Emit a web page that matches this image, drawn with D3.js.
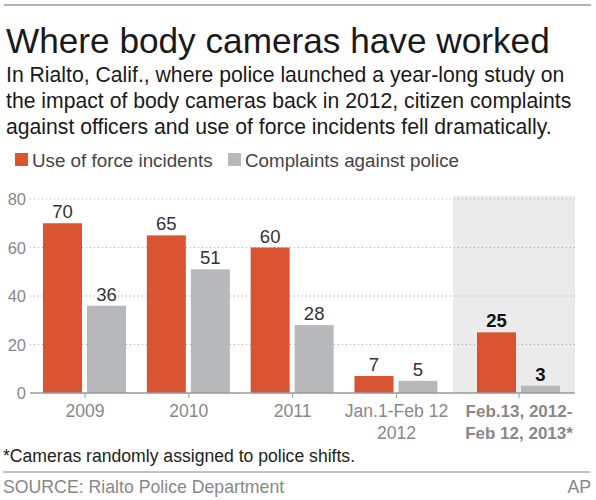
<!DOCTYPE html>
<html>
<head>
<meta charset="utf-8">
<script src="https://cdn.jsdelivr.net/npm/d3@7"></script>
<style>
  body { margin: 0; background: #fff; }
  svg { display: block; font-family: "Liberation Sans", Arial, sans-serif; }
</style>
</head>
<body>
<div id="chart"></div>
<script>
var periods = ["2009", "2010", "2011", "Jan.1-Feb 12|2012", "Feb.13, 2012-|Feb 12, 2013*"];
var force = [70, 65, 60, 7, 25];
var complaints = [36, 51, 28, 5, 3];
var yTicks = [0, 20, 40, 60, 80];

var orange = "#d95430", grey = "#b6b8bb";

var svg = d3.select("#chart").append("svg")
    .attr("width", 596)
    .attr("height", 500);

// top rule
svg.append("line").attr("x1", 4).attr("x2", 591).attr("y1", 5).attr("y2", 5)
    .attr("stroke", "#999").attr("stroke-width", 1.5);

svg.append("text").attr("x", 6).attr("y", 53)
    .attr("font-size", 35.2).attr("fill", "#1a1a1a")
    .text("Where body cameras have worked");

var sub = ["In Rialto, Calif., where police launched a year-long study on",
           "the impact of body cameras back in 2012, citizen complaints",
           "against officers and use of force incidents fell dramatically."];
svg.selectAll(".sub").data(sub).enter().append("text")
    .attr("x", 6).attr("y", function(d, i) { return 82 + i * 26; })
    .attr("font-size", 21.2).attr("fill", "#1a1a1a")
    .text(function(d) { return d; });

// legend
var legend = [["Use of force incidents", orange, 15], ["Complaints against police", grey, 228]];
legend.forEach(function(l) {
    svg.append("rect").attr("x", l[2]).attr("y", 153).attr("width", 13).attr("height", 13).attr("fill", l[1]);
    svg.append("text").attr("x", l[2] + 17).attr("y", 167).attr("font-size", 18.8)
        .attr("fill", "#444").text(l[0]);
});

// scales
var left = 30, right = 575;
var y = d3.scaleLinear().domain([0, 80]).range([393, 199]);
// the study period sits a little further right than the other groups
var slot = periods.map(function(d, i) { return i + (i === 4 ? 0.18 : 0); });
var x = d3.scaleLinear().domain([0, 4.18]).range([85, 519]);
var barW = 39;

// study period shading
svg.append("rect").attr("x", 453).attr("y", y(80) - 3)
    .attr("width", right - 453).attr("height", y(0) - y(80) + 3)
    .attr("fill", "#ebebeb");

// gridlines + y labels
var grid = svg.append("g");
grid.selectAll("line").data(yTicks.slice(1)).enter().append("line")
    .attr("x1", left).attr("x2", right)
    .attr("y1", function(d) { return y(d); }).attr("y2", function(d) { return y(d); })
    .attr("stroke", "#aaa").attr("stroke-dasharray", "1,3");
grid.selectAll("text").data(yTicks).enter().append("text")
    .attr("x", 26).attr("y", function(d) { return y(d) + 6; })
    .attr("text-anchor", "end").attr("font-size", 16.5).attr("fill", "#888")
    .text(function(d) { return d; });

// bars
var groups = svg.selectAll(".grp").data(periods).enter().append("g")
    .attr("transform", function(d, i) { return "translate(" + x(slot[i]) + ",0)"; });

groups.append("rect")
    .attr("x", -barW - 3).attr("width", barW)
    .attr("y", function(d, i) { return y(force[i]); })
    .attr("height", function(d, i) { return y(0) - y(force[i]); })
    .attr("fill", orange);
groups.append("rect")
    .attr("x", 2).attr("width", barW)
    .attr("y", function(d, i) { return y(complaints[i]); })
    .attr("height", function(d, i) { return y(0) - y(complaints[i]); })
    .attr("fill", grey);

function valLabel(sel, vals, dx) {
    sel.append("text")
        .attr("x", dx).attr("y", function(d, i) { return y(vals[i]) - 5; })
        .attr("text-anchor", "middle").attr("font-size", 18.5)
        .attr("font-weight", function(d, i) { return i === 4 ? "bold" : "normal"; })
        .attr("fill", function(d, i) { return i === 4 ? "#111" : "#333"; })
        .text(function(d, i) { return vals[i]; });
}
valLabel(groups, force, -barW / 2 - 3);
valLabel(groups, complaints, barW / 2 + 2);

// x axis
svg.append("line").attr("x1", left).attr("x2", right).attr("y1", y(0)).attr("y2", y(0))
    .attr("stroke", "#999").attr("stroke-width", 1.5);
groups.append("line").attr("x1", 0).attr("x2", 0).attr("y1", y(0)).attr("y2", y(0) + 5)
    .attr("stroke", "#999");
groups.each(function(d, i) {
    var lines = d.split("|");
    var t = d3.select(this).append("text").attr("text-anchor", "middle")
        .attr("font-size", i === 4 ? 17 : 17.6).attr("fill", "#888")
        .attr("font-weight", i === 4 ? "bold" : "normal");
    lines.forEach(function(s, j) {
        t.append("tspan").attr("x", 0).attr("y", 417 + j * 22).text(s);
    });
});

// footer
svg.append("text").attr("x", 3).attr("y", 462).attr("font-size", 17.6).attr("fill", "#222")
    .text("*Cameras randomly assigned to police shifts.");
svg.append("line").attr("x1", 3).attr("x2", 590).attr("y1", 472).attr("y2", 472)
    .attr("stroke", "#888").attr("stroke-width", 1.2);
svg.append("text").attr("x", 3).attr("y", 493).attr("font-size", 17.7).attr("fill", "#888")
    .text("SOURCE: Rialto Police Department");
svg.append("text").attr("x", 591).attr("y", 493).attr("text-anchor", "end")
    .attr("font-size", 17.7).attr("fill", "#888").text("AP");
</script>
</body>
</html>
